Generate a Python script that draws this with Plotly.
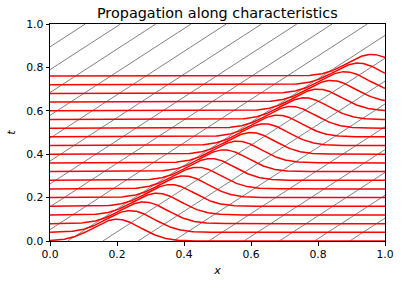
import numpy as np
import plotly.graph_objects as go

# Values
snapshot_times = [0.00, 0.04, 0.08, 0.12, 0.16, 0.20, 0.24, 0.28, 0.32, 0.36,
                  0.40, 0.44, 0.48, 0.52, 0.56, 0.60, 0.64, 0.68, 0.72, 0.76]
char_origins = [-1.0, -0.8947, -0.7895, -0.6842, -0.5789, -0.4737, -0.3684,
                -0.2632, -0.1579, -0.0526, 0.0526, 0.1579, 0.2632, 0.3684,
                0.4737, 0.5789, 0.6842, 0.7895, 0.8947, 1.0]
wave_speed = 1.0
pulse_center = 0.2
pulse_height = 0.1
pulse_width = 0.1
x_ticks = [0.0, 0.2, 0.4, 0.6, 0.8, 1.0]
y_ticks = [0.0, 0.2, 0.4, 0.6, 0.8, 1.0]

fig = go.Figure()

tt = np.array([0.0, 1.0])
for x0 in char_origins:
    fig.add_trace(go.Scatter(x=x0 + wave_speed * tt, y=tt, mode="lines",
                             line=dict(color="black", width=0.5),
                             hoverinfo="skip", showlegend=False))

xx = np.linspace(0, 1, 400)
for tn in snapshot_times:
    u = pulse_height * np.exp(-((xx - pulse_center - wave_speed * tn) / pulse_width) ** 2)
    fig.add_trace(go.Scatter(x=xx, y=tn + u, mode="lines",
                             line=dict(color="red", width=1.5),
                             showlegend=False))

font = "DejaVu Sans"
axis_common = dict(showline=True, linecolor="black", linewidth=1, mirror=True,
                   ticks="outside", ticklen=3.5, tickwidth=1, tickcolor="black",
                   showgrid=False, zeroline=False, automargin=False,
                   tickfont=dict(family=font, size=10.8, color="black"))

fig.update_layout(
    width=401, height=285,
    margin=dict(l=50, r=16, t=24, b=44, autoexpand=False),
    paper_bgcolor="white", plot_bgcolor="white",
    title=dict(text="Propagation along characteristics", x=0.542, xanchor="center",
               y=1 - 13 / 285, yanchor="middle",
               font=dict(family=font, size=14.4, color="black")),
    xaxis=dict(range=[0, 1], tickvals=x_ticks, ticktext=[f"{v:.1f}" for v in x_ticks],
               title=dict(text="<i>x</i>", font=dict(family=font, size=11, color="black"),
                          standoff=5),
               **axis_common),
    yaxis=dict(range=[0, 1], tickvals=y_ticks, ticktext=[f"{v:.1f}" for v in y_ticks],
               title=dict(text="<i>t</i>", font=dict(family=font, size=11, color="black"),
                          standoff=8),
               **axis_common),
)

fig.write_html("out.html")
